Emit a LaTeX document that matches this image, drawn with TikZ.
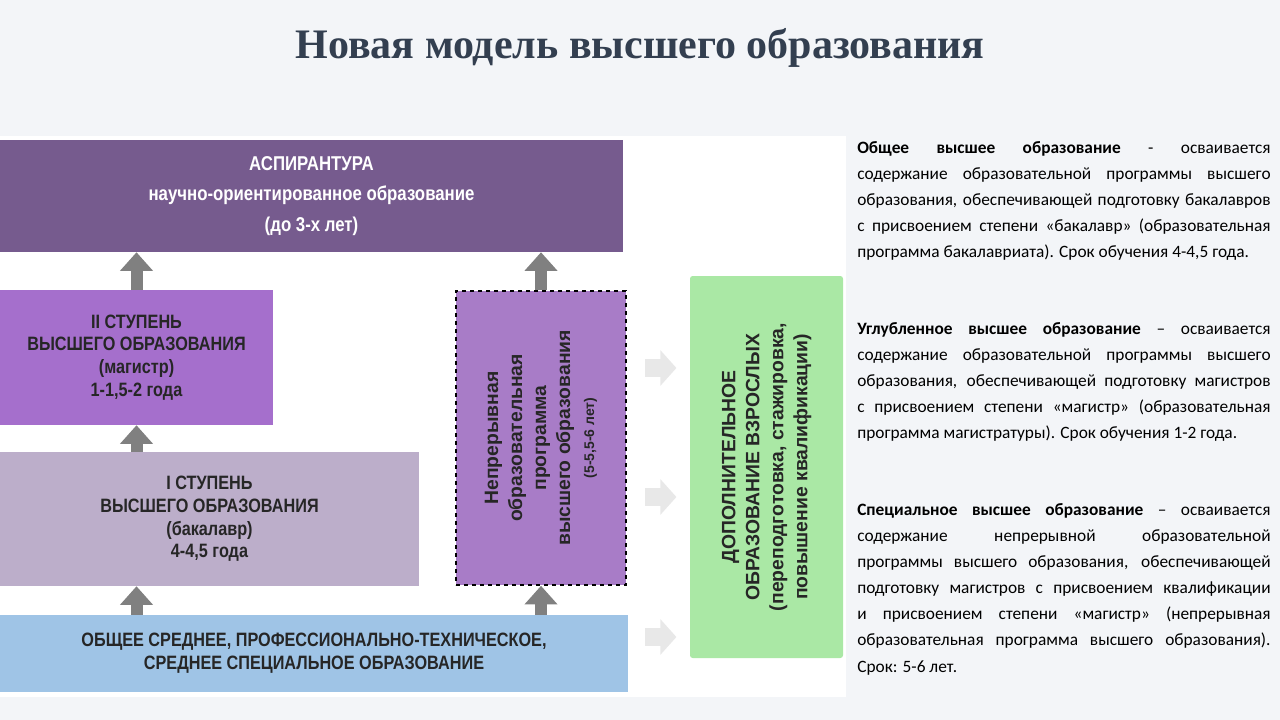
\documentclass[tikz,border=0pt]{standalone}
\usepackage{fontspec}
\setmainfont{Carlito}
\newfontfamily\narrowsans[FakeStretch=0.84]{Liberation Sans}
\newfontfamily\plainsans{Liberation Sans}
\newfontfamily\titlefont{Liberation Serif}
\usetikzlibrary{positioning,arrows.meta}
\definecolor{slidebg}{HTML}{F3F5F8}
\definecolor{aspcol}{HTML}{765B8E}
\definecolor{magcol}{HTML}{A56FCC}
\definecolor{bakcol}{HTML}{BCAECA}
\definecolor{gencol}{HTML}{9FC4E6}
\definecolor{contcol}{HTML}{A87CC7}
\definecolor{addcol}{HTML}{AAE8A5}
\definecolor{titlecol}{HTML}{333F50}
\tikzset{
  box/.style={inner sep=0pt, align=center, font=\narrowsans\bfseries\fontsize{14.5}{17}\selectfont, text=black!85},
  uparr/.style={draw=gray!75!black!80, line width=9pt, -{Triangle[width=24pt,length=14pt]}},
  rarr/.style={draw=black!9, line width=14pt, -{Triangle[width=26pt,length=12pt]}},
  para/.style={anchor=north west, text width=310pt, align=justify, inner sep=0pt, font=\fontsize{13}{19.6}\selectfont}
}
\begin{document}
\begin{tikzpicture}[x=0.75pt,y=-0.75pt]
	\useasboundingbox[fill=slidebg] (0,0) rectangle (1280,720);
	\fill[white] (0,136) rectangle (846,697);

	\node[font=\titlefont\bfseries\fontsize{31.5}{34}\selectfont, text=titlecol] (title) at (640,48) {Новая модель высшего образования};

	\node[box, fill=aspcol, text=white, minimum width=467.25pt, minimum height=84pt, font=\narrowsans\bfseries\fontsize{15}{23}\selectfont] (asp) at (311.5,196)
		{АСПИРАНТУРА\\научно-ориентированное образование\\(до 3-х лет)};
	\node[box, fill=magcol, minimum width=204.75pt, minimum height=101.25pt] (ii) at (136.5,357.5)
		{II СТУПЕНЬ\\ВЫСШЕГО ОБРАЗОВАНИЯ\\(магистр)\\1-1,5-2 года};
	\node[box, fill=bakcol, minimum width=314.25pt, minimum height=100.5pt] (i) at (209.5,519)
		{I СТУПЕНЬ\\ВЫСШЕГО ОБРАЗОВАНИЯ\\(бакалавр)\\4-4,5 года};
	\node[box, fill=gencol, minimum width=471pt, minimum height=57.75pt] (gen) at (314,653.5)
		{ОБЩЕЕ СРЕДНЕЕ, ПРОФЕССИОНАЛЬНО-ТЕХНИЧЕСКОЕ,\\СРЕДНЕЕ СПЕЦИАЛЬНОЕ ОБРАЗОВАНИЕ};
	\node[box, fill=contcol, draw=black, dashed, line width=1.2pt, minimum width=127.5pt, minimum height=220.5pt] (cont) at (541,438) {};
	\node[rotate=90, align=center, font=\plainsans\bfseries\fontsize{14.5}{18}\selectfont, text=black!85] (conttext) at (cont.center)
		{Непрерывная\\образовательная\\программа\\высшего образования\\{\fontsize{10.5}{13}\selectfont (5-5,5-6 лет)}};
	\node[box, fill=addcol, rounded corners=2pt, minimum width=114.75pt, minimum height=286.5pt] (add) at (766.5,467) {};
	\node[rotate=90, align=center, font=\plainsans\bfseries\fontsize{14.5}{18}\selectfont, text=black!85] (addtext) at (add.center)
		{ДОПОЛНИТЕЛЬНОЕ\\ОБРАЗОВАНИЕ ВЗРОСЛЫХ\\(переподготовка, стажировка,\\повышение квалификации)};

	\draw[uparr] (ii.north) -- (ii.north |- asp.south);
	\draw[uparr] (i.north -| ii.north) -- (ii.south);
	\draw[uparr] (gen.north -| ii.north) -- (i.south -| ii.north);
	\draw[uparr] (cont.north) -- (cont.north |- asp.south);
	\draw[uparr] (gen.north -| cont.south) -- (cont.south);

	\coordinate (r1) at (645,368);
	\coordinate (r2) at (645,497);
	\coordinate (r3) at (645,637);
	\foreach \r in {r1,r2,r3}
		\draw[rarr] (\r) -- ([xshift=-10pt]\r -| add.west);

	\node[para] (p1) at (857,141) {\textbf{Общее высшее образование} - осваивается содержание образовательной программы высшего образования, обеспечивающей подготовку бакалавров с присвоением степени «бакалавр» (образовательная программа бакалавриата). Срок обучения 4-4,5 года.};
	\node[para] (p2) at (857,322) {\textbf{Углубленное высшее образование} – осваивается содержание образовательной программы высшего образования, обеспечивающей подготовку магистров с присвоением степени «магистр» (образовательная программа магистратуры). Срок обучения 1-2 года.};
	\node[para] (p3) at (857,503) {\textbf{Специальное высшее образование} – осваивается содержание непрерывной образовательной программы высшего образования, обеспечивающей подготовку магистров с присвоением квалификации и присвоением степени «магистр» (непрерывная образовательная программа высшего образования). Срок: 5-6 лет.};
\end{tikzpicture}
\end{document}
